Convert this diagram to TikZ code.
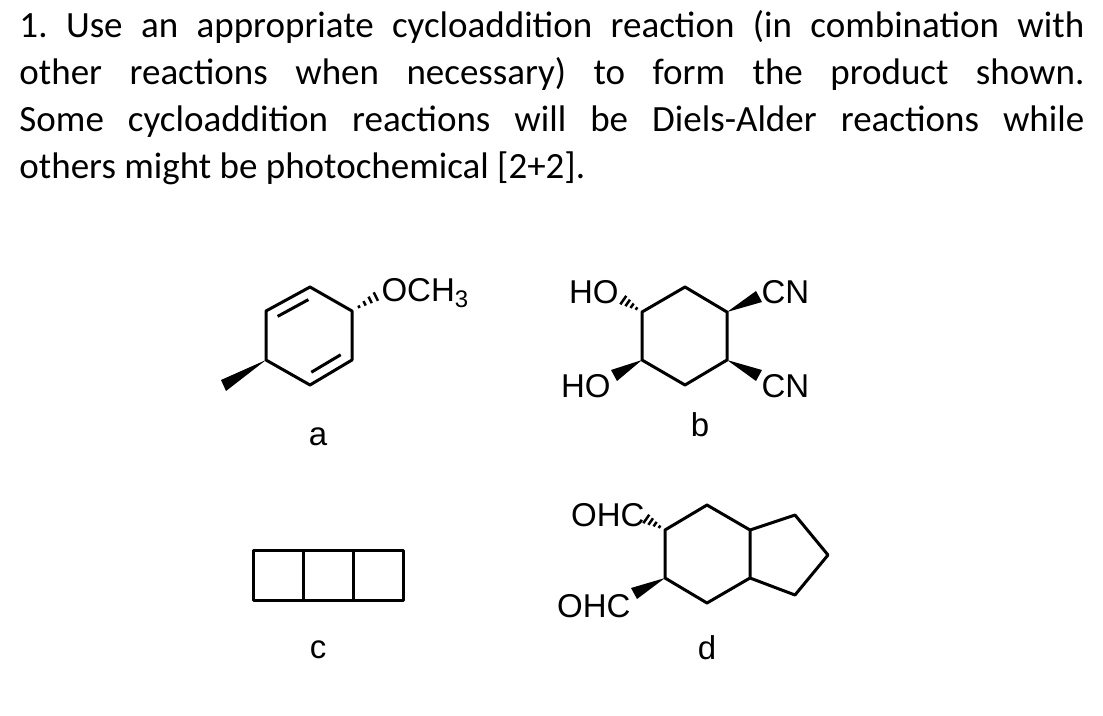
\documentclass[tikz,border=0pt]{standalone}
\usepackage{fontspec}
\setmainfont{Carlito}
\newfontfamily\arial{Liberation Sans}
\usetikzlibrary{calc}
\newcommand{\subthree}{\raisebox{-6pt}{\fontsize{24}{25}\selectfont 3}}
\begin{document}
\frenchspacing
\begin{tikzpicture}[x=1pt,y=-1pt,line width=3pt,line join=round,
  lab/.style={font=\arial\fontsize{33}{35}\selectfont,inner sep=0pt},
  wedge/.style={fill=black,draw=none},
  hash/.style={line width=2.5pt}]
\useasboundingbox (0,0) rectangle (1103,715);
\node[anchor=north west,inner sep=0pt,text width=1065pt,align=justify,
  font=\fontsize{37}{47}\selectfont\frenchspacing] (hdr) at (18,9)
 {1. Use an appropriate cycloaddition reaction (in combination with\linebreak
 other reactions when necessary) to form the product shown.\linebreak
 Some cycloaddition reactions will be Diels-Alder reactions while\linebreak
 others might be photochemical [2+2].\par};
% a
\coordinate (a1) at (310,287); \coordinate (a2) at (352,311);
\coordinate (a3) at (352,360); \coordinate (a4) at (310,385);
\coordinate (a5) at (266,360); \coordinate (a6) at (266,311);
\draw (a1)--(a2)--(a3)--(a4)--(a5)--(a6)--cycle;
\draw ($(a6)!0.15!(a1)+(5,9)$) -- ($(a6)!0.85!(a1)+(5,9)$);
\draw ($(a4)!0.15!(a3)+(-5,-9)$) -- ($(a4)!0.85!(a3)+(-5,-9)$);
\fill[wedge] (a5) -- (221,380) -- (226,391) -- cycle;
\foreach \t in {0.25,0.45,0.65,0.85}
  \draw[hash] ($(a2)!\t!(380,294)+(-2.5*\t,-5*\t)$) -- ($(a2)!\t!(380,294)+(2.5*\t,5*\t)$);
\node[lab,anchor=west] (och) at (380,293) {OCH\subthree};
\node[lab] (la) at (318,437) {a};
% b
\coordinate (b1) at (685,287); \coordinate (b2) at (727,312);
\coordinate (b3) at (727,360); \coordinate (b4) at (685,385);
\coordinate (b5) at (642,360); \coordinate (b6) at (642,312);
\draw (b1)--(b2)--(b3)--(b4)--(b5)--(b6)--cycle;
\foreach \t in {0.25,0.45,0.65,0.85}
  \draw[hash] ($(b6)!\t!(620,298)+(-3.5*\t,5*\t)$) -- ($(b6)!\t!(620,298)+(3.5*\t,-5*\t)$);
\node[lab,anchor=east] (ho1) at (620,292) {HO};
\fill[wedge] (b2) -- (756,291) -- (762,302) -- cycle;
\node[lab,anchor=west] (cn1) at (760,292) {CN};
\fill[wedge] (b5) -- (611,370) -- (617,381) -- cycle;
\node[lab,anchor=east] (ho2) at (612,386) {HO};
\fill[wedge] (b3) -- (756,381) -- (762,370) -- cycle;
\node[lab,anchor=west] (cn2) at (760,386) {CN};
\node[lab] (lb) at (700,425) {b};
% c
\draw (253,550) rectangle (403,600);
\draw (303,550)--(303,600) (353,550)--(353,600);
\node[lab] (lc) at (318,650) {c};
% d
\coordinate (d1) at (707,505); \coordinate (d2) at (750,530);
\coordinate (d3) at (750,578); \coordinate (d4) at (707,603);
\coordinate (d5) at (665,578); \coordinate (d6) at (665,530);
\coordinate (e1) at (795,515); \coordinate (e2) at (828,555); \coordinate (e3) at (795,595);
\draw (d1)--(d2)--(d3)--(d4)--(d5)--(d6)--cycle;
\draw (d2)--(e1)--(e2)--(e3)--(d3);
\foreach \t in {0.25,0.45,0.65,0.85}
  \draw[hash] ($(d6)!\t!(643,517)+(-3.5*\t,5*\t)$) -- ($(d6)!\t!(643,517)+(3.5*\t,-5*\t)$);
\node[lab,anchor=east] (o1) at (646,515) {OHC};
\fill[wedge] (d5) -- (631,588) -- (637,599) -- cycle;
\node[lab,anchor=east] (o2) at (632,606) {OHC};
\node[lab] (ld) at (707,648) {d};
\end{tikzpicture}
\end{document}
